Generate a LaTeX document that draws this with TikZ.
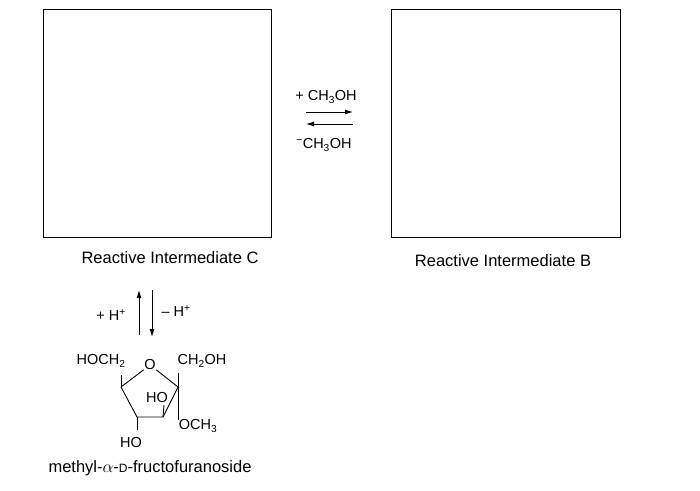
\documentclass[tikz,border=0pt]{standalone}
\usepackage{fontspec}
\setmainfont{Liberation Sans}
\begin{document}
\begin{tikzpicture}[x=1pt,y=-1pt,
  box/.style={draw,line width=0.9pt},
  lbl/.style={font=\fontsize{16.5}{18}\selectfont},
  chem/.style={font=\fontsize{14.5}{16}\selectfont,inner sep=1pt},
  bond/.style={line width=0.9pt},
  rx/.style={-{Latex[length=8pt,width=5pt]},line width=0.9pt}]
\usetikzlibrary{arrows.meta}
\useasboundingbox (0,0) rectangle (700,490);
\draw[box] (43,9) rectangle (271,237);
\draw[box] (391,9) rectangle (620,237);
\node[lbl] (lc) at (170,258) {Reactive Intermediate C};
\node[lbl] (lb) at (503,261) {Reactive Intermediate B};
\node[chem] (t1) at (326,97) {+ CH\textsubscript{3}OH};
\node[chem] (t2) at (324,145) {\textsuperscript{\textminus}CH\textsubscript{3}OH};
\coordinate (a1) at (306,112); \coordinate (a2) at (353,112);
\coordinate (b1) at (353,124); \coordinate (b2) at (306,124);
\draw[rx] (a1) -- (a2);
\draw[rx] (b1) -- (b2);
\coordinate (u1) at (139,335); \coordinate (u2) at (139,290);
\coordinate (d1) at (152,290); \coordinate (d2) at (152,337);
\draw[rx] (u1) -- (u2);
\draw[rx] (d1) -- (d2);
\node[chem] (hp) at (111,315) {+ H\textsuperscript{+}};
\node[chem] (hm) at (176,311) {– H\textsuperscript{+}};
% ring
\coordinate (c5) at (121,387);
\node[chem,inner sep=0.5pt] (o) at (150,364) {O};
\coordinate (c2) at (178,387);
\coordinate (c3) at (163,417);
\coordinate (c4) at (137,417);
\draw[bond] (c5) -- (o.south west);
\draw[bond] (o.south east) -- (c2);
\draw[bond] (c2) -- (c3) -- (c4) -- (c5);
\node[chem] (hoch2) at (101,361) {HOCH\textsubscript{2}};
\node[chem] (ch2oh) at (202,361) {CH\textsubscript{2}OH};
\node[chem] (och3) at (198,426) {OCH\textsubscript{3}};
\node[chem] (ho3) at (157,397) {HO};
\node[chem] (ho4) at (131,442) {HO};
\coordinate (c5t) at (121,375);
\coordinate (c2t) at (178,373);
\coordinate (c2b) at (178,420);
\coordinate (c3t) at (164,405);
\coordinate (c4b) at (137,430);
\draw[bond] (c5) -- (c5t);
\draw[bond] (c2) -- (c2t);
\draw[bond] (c2) -- (c2b);
\draw[bond] (c3) -- (c3t);
\draw[bond] (c4) -- (c4b);
\node[lbl] (cap) at (150,468) {methyl-$\alpha$-{\fontsize{12}{14}\selectfont D}-fructofuranoside};
\end{tikzpicture}
\end{document}
